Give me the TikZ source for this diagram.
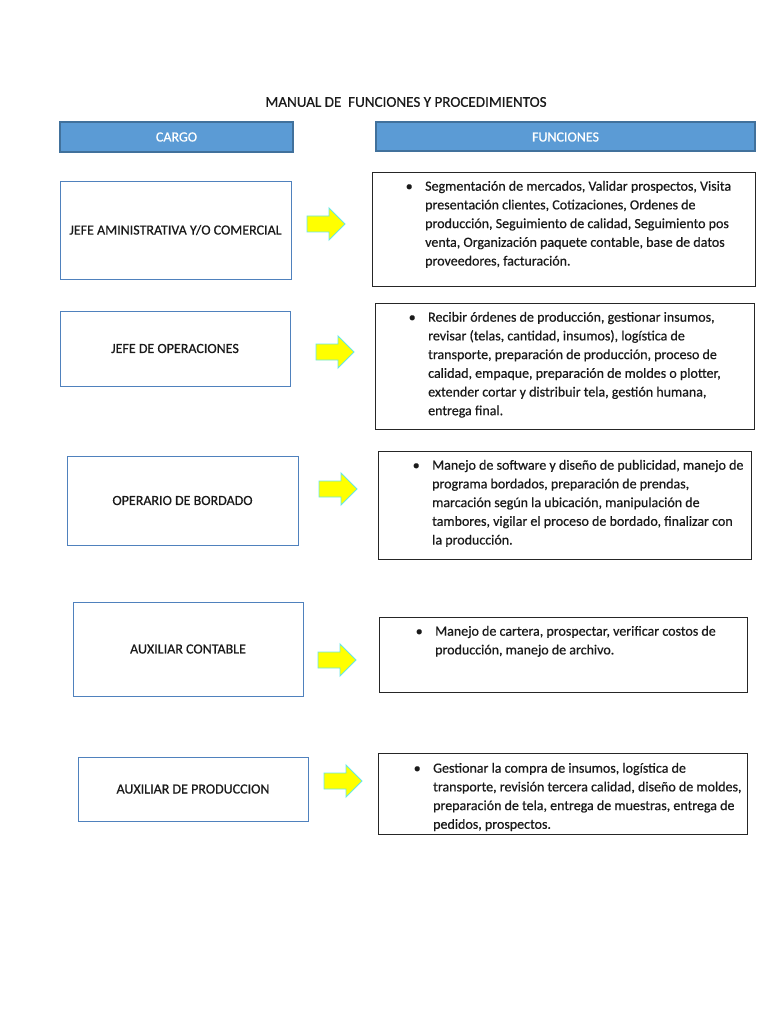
\documentclass[tikz,border=0pt]{standalone}
\usepackage{fontspec}
\setmainfont{Carlito}[BoldFont=Carlito, BoldFeatures={FakeBold=0.5}]
\usetikzlibrary{shadows}
\definecolor{hdrfill}{HTML}{5B9BD5}
\definecolor{hdrdraw}{HTML}{41719C}
\definecolor{lbdraw}{HTML}{4F81BD}
\definecolor{lbshadow}{HTML}{385D8A}
\definecolor{arrfill}{HTML}{FFFF00}
\definecolor{arrdraw}{HTML}{66E6E6}
\definecolor{txtcol}{HTML}{1A1A1A}
\begin{document}
\begin{tikzpicture}[x=1pt,y=-1pt,
  basefont/.style={font=\fontsize{14}{18.7}\selectfont\bfseries, text=txtcol},
  title/.style={font=\fontsize{15.1}{18}\selectfont\bfseries, text=txtcol, inner sep=0pt},
  hdr/.style={draw=hdrdraw, line width=1.3pt, fill=hdrfill, basefont, text=white, inner sep=0pt},
  hdrtext/.style={basefont, text=white, inner sep=0pt, text height=9pt, text depth=0pt},
  cargobox/.style={draw=lbdraw, line width=0.8pt, fill=white, basefont, inner sep=0pt,
     drop shadow={shadow xshift=0pt, shadow yshift=-1.2pt, fill=lbshadow, opacity=1}},
  funcbox/.style={draw=black!85, line width=0.9pt, fill=white, inner sep=0pt,
     drop shadow={shadow xshift=1.3pt, shadow yshift=-1.3pt, fill=black!55, opacity=1}},
  functext/.style={basefont, align=left, anchor=north west, inner sep=0pt},
  yarrow/.style={fill=arrfill, draw=arrdraw, line width=0.9pt, line join=miter},
  blockarrow/.pic={\path[yarrow] (-19,-8)--(3,-8)--(3,-16)--(19,0)--(3,16)--(3,8)--(-19,8)--cycle;}
]
\useasboundingbox (0,0) rectangle (768,1024);
\fill[white] (0,0) rectangle (768,1024);

\newcommand{\bul}{\llap{\textbullet\hspace{12.5pt}}\rule{0pt}{10.5pt}}

% title
\node[title] (title) at (406,102) {MANUAL DE \ FUNCIONES Y PROCEDIMIENTOS};

% headers
\node[hdr, minimum width=233, minimum height=30] (hcargo) at (176.5,137) {};
\node[hdrtext] (hcargot) at (hcargo.center) {CARGO};
\node[hdr, minimum width=379, minimum height=29] (hfunc) at (565.5,136.5) {};
\node[hdrtext] (hfunct) at (565.5,137) {FUNCIONES};

% row 1
\node[cargobox, minimum width=231, minimum height=98] (c1) at (175.5,230) {JEFE AMINISTRATIVA Y/O COMERCIAL};
\node[funcbox, minimum width=383, minimum height=114] (f1) at (563.5,229) {};
\node[functext] (t1) at (425,180) {\bul Segmentación de mercados, Validar prospectos, Visita\\
presentación clientes, Cotizaciones, Ordenes de\\
producción, Seguimiento de calidad, Seguimiento pos\\
venta, Organización paquete contable, base de datos\\
proveedores, facturación.};
\pic at (326,224) {blockarrow};

% row 2
\node[cargobox, minimum width=230, minimum height=75] (c2) at (175,348.5) {JEFE DE OPERACIONES};
\node[funcbox, minimum width=379, minimum height=126] (f2) at (564.5,366) {};
\node[functext] (t2) at (428,311) {\bul Recibir órdenes de producción, gestionar insumos,\\
revisar (telas, cantidad, insumos), logística de\\
transporte, preparación de producción, proceso de\\
calidad, empaque, preparación de moldes o plotter,\\
extender cortar y distribuir tela, gestión humana,\\
entrega final.};
\pic at (335,352) {blockarrow};

% row 3
\node[cargobox, minimum width=231, minimum height=89] (c3) at (182.5,500.5) {OPERARIO DE BORDADO};
\node[funcbox, minimum width=373, minimum height=108] (f3) at (564.5,505) {};
\node[functext] (t3) at (432,459) {\bul Manejo de software y diseño de publicidad, manejo de\\
programa bordados, preparación de prendas,\\
marcación según la ubicación, manipulación de\\
tambores, vigilar el proceso de bordado, finalizar con\\
la producción.};
\pic at (338,489) {blockarrow};

% row 4
\node[cargobox, minimum width=230, minimum height=94] (c4) at (188,649) {AUXILIAR CONTABLE};
\node[funcbox, minimum width=368, minimum height=75] (f4) at (563,654.5) {};
\node[functext] (t4) at (435,625) {\bul Manejo de cartera, prospectar, verificar costos de\\
producción, manejo de archivo.};
\pic at (337,660) {blockarrow};

% row 5
\node[cargobox, minimum width=230, minimum height=64] (c5) at (193,789) {AUXILIAR DE PRODUCCION};
\node[funcbox, minimum width=369, minimum height=81] (f5) at (562.5,793.5) {};
\node[functext] (t5) at (433,762) {\bul Gestionar la compra de insumos, logística de\\
transporte, revisión tercera calidad, diseño de moldes,\\
preparación de tela, entrega de muestras, entrega de\\
pedidos, prospectos.};
\pic at (343,781) {blockarrow};
\end{tikzpicture}
\end{document}
